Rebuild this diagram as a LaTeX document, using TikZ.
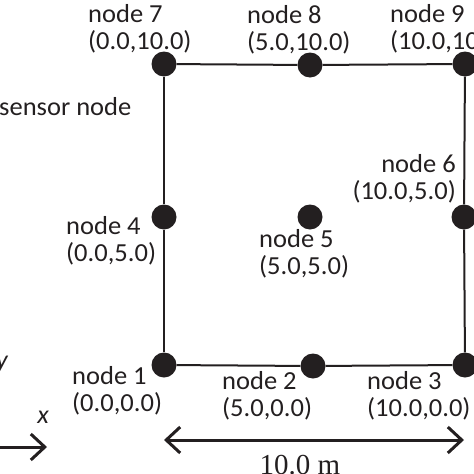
\documentclass[tikz,border=0pt]{standalone}
\usepackage{fontspec}
\setmainfont[FakeStretch=1.02]{Carlito}
\newfontfamily\dimserif{Liberation Serif}
\usetikzlibrary{arrows.meta,positioning}
\definecolor{gdark}{HTML}{231F20}
\tikzset{
  sn/.style={circle,fill=gdark,minimum size=25pt,inner sep=0pt},
  lbl/.style={align=left,inner sep=0pt,font=\fontsize{26}{27}\selectfont,text=gdark},
  wire/.style={line width=2pt,gdark},
  ar/.style={-{Straight Barb[length=14pt,width=26pt]},line width=3pt,gdark},
  dimar/.style={{Straight Barb[length=14pt,width=26pt]}-{Straight Barb[length=14pt,width=26pt]},line width=3pt,gdark},
}
\begin{document}
\begin{tikzpicture}[x=1pt,y=-1pt]
    \useasboundingbox (0,0) rectangle (474,474);
    % sensor nodes on the 10 m square
    \node[sn] (n1) at (164,365) {};
    \node[sn] (n2) at (313,366) {};
    \node[sn] (n3) at (465,365) {};
    \node[sn] (n4) at (164,217) {};
    \node[sn] (n5) at (310,217) {};
    \node[sn] (n6) at (464,217) {};
    \node[sn] (n7) at (164,64) {};
    \node[sn] (n8) at (310,65) {};
    \node[sn] (n9) at (465,64) {};
    \draw[wire](n7)--(n8);\draw[wire](n8)--(n9);
    \draw[wire](n9)--(n6);\draw[wire](n6)--(n3);
    \draw[wire](n3)--(n2);\draw[wire](n2)--(n1);
    \draw[wire](n1)--(n4);\draw[wire](n4)--(n7);
    % labels
    \node[lbl,anchor=north west] (t7) at (88,4) {node 7\\(0.0,10.0)};
    \node[lbl,anchor=north west] (t8) at (247,5) {node 8\\(5.0,10.0)};
    \node[lbl,anchor=north west] (t9) at (390,4) {node 9\\(10.0,10.0)};
    \node[lbl,anchor=north west] (t4) at (66,216) {node 4\\(0.0,5.0)};
    \node[lbl,anchor=north west] (t5) at (259,229) {node 5\\(5.0,5.0)};
    \node[lbl,align=right,anchor=north east] (t6) at (456,154) {node 6\\(10.0,5.0)};
    \node[lbl,anchor=north west] (t1) at (72,366) {node 1\\(0.0,0.0)};
    \node[lbl,anchor=north west] (t2) at (222,371) {node 2\\(5.0,0.0)};
    \node[lbl,anchor=north west] (t3) at (367,371) {node 3\\(10.0,0.0)};
    \node[lbl,anchor=base west] (leg) at (-1,115) {sensor node};
    % axes and dimension
    \coordinate (org) at (-20,447);
    \coordinate (xend) at (47,447);
    \draw[ar](org)--(xend);
    \node[lbl,anchor=base] (xl) at (43,423) {\itshape x};
    \node[lbl,anchor=base east] (yl) at (8,368) {\itshape y};
    \coordinate (dl) at (164,440);
    \coordinate (dr) at (464,440);
    \draw[dimar](dl)--(dr);
    \node[inner sep=0pt,anchor=base,font=\dimserif\fontsize{29}{30}\selectfont,text=gdark] (dim) at (300,474) {10.0 m};
\end{tikzpicture}
\end{document}
